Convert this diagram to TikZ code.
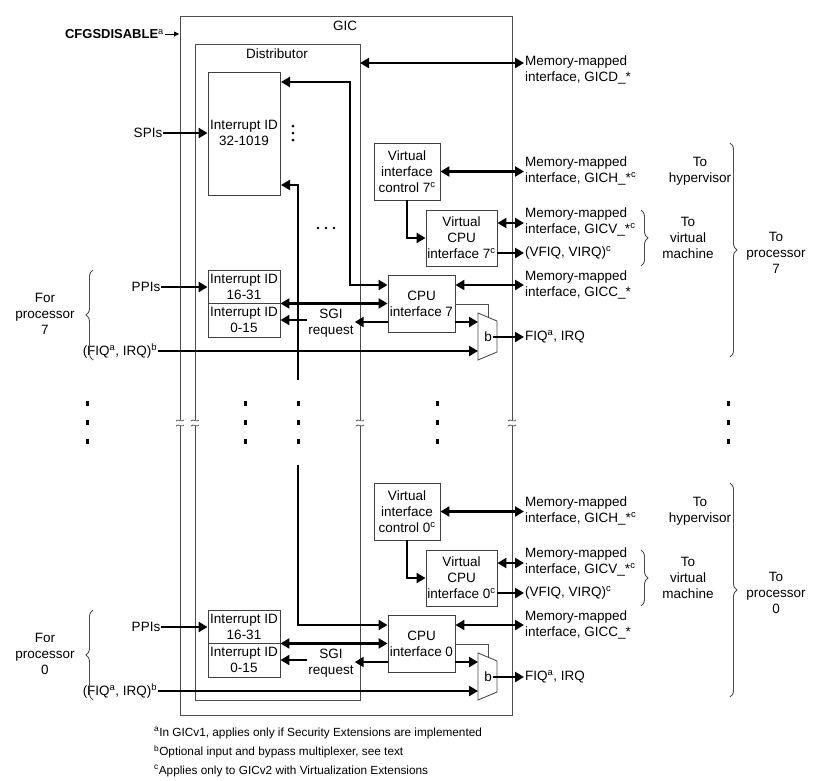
\documentclass[tikz,border=0pt]{standalone}
\usepackage{fontspec}
\setmainfont{Liberation Sans}
\usetikzlibrary{arrows.meta,calc,decorations.pathreplacing}

\tikzset{
    txt/.style={font=\fontsize{13.5}{16}\selectfont, inner sep=1pt},
    blk/.style={draw=black!75, line width=0.9pt, fill=white, align=center, txt, inner sep=0pt},
    sig/.style={line width=2.3pt, -{Triangle[length=9pt,width=10pt]}},
    bisig/.style={line width=2.3pt, {Triangle[length=9pt,width=10pt]}-{Triangle[length=9pt,width=10pt]}},
    frame/.style={draw=black!70, line width=0.9pt},
    brc/.style={draw=black!70, line width=0.9pt, decorate, decoration={brace, amplitude=7pt}},
}

\begin{document}
\begin{tikzpicture}[x=1pt, y=-1pt]
    \useasboundingbox (0,0) rectangle (816,780);

    % outer blocks
    \draw[frame] (180,16) rectangle (512,715);
    \draw[frame] (195,44) rectangle (360,700);
    \node[txt] (gic) at (345,26) {GIC};
    \node[txt] (dist) at (277,54) {Distributor};
    \node[txt, anchor=east, font=\fontsize{13}{15}\selectfont\bfseries] (cfg) at (165,34) {CFGSDISABLE\textsuperscript{\normalfont a}};
    \coordinate (gicin) at (179,34);
    \draw[line width=0.9pt, -{Triangle[length=5pt,width=5pt]}] (cfg.east) -- (gicin);

    % shared SPI block
    \node[blk, minimum width=72pt, minimum height=123pt] (spi) at (244,133.5) {};
    \node[txt, align=center] (spitxt) at (244,133) {Interrupt ID\\32-1019};
    \node[txt] (spis) at (148,133) {SPIs};
    \draw[sig] (spis.east) -- (spi.west |- spis.east);
    \foreach \y in {126,133,140} \fill (293,\y) circle (1.5pt);
    \foreach \x in {318,326,334} \fill (\x,228) circle (1.3pt);

    \node[txt, anchor=west, align=left] (gicd) at (524,70) {Memory-mapped\\interface, GICD\_*};
    \coordinate (distr) at (360,63);
    \draw[bisig] (distr) -- (distr -| gicd.west);

    \foreach \p/\d in {7/0, 0/340} {
        % per-processor blocks
        \node[blk, minimum width=66pt, minimum height=57pt] (vic\p) at (407,{171.5+\d}) {Virtual\\interface\\control \p\textsuperscript{c}};
        \node[blk, minimum width=71pt, minimum height=56pt] (vcpu\p) at (461.5,{238+\d}) {Virtual\\CPU\\interface \p\textsuperscript{c}};
        \node[blk, minimum width=67pt, minimum height=57pt] (cpu\p) at (421.5,{303.5+\d}) {CPU\\interface \p};
        \node[blk, minimum width=72pt, minimum height=33pt] (ida\p) at (244,{286.5+\d}) {Interrupt ID\\16-31};
        \node[blk, minimum width=72pt, minimum height=34pt] (idb\p) at (244,{320+\d}) {Interrupt ID\\0-15};
        \draw[frame] (478,{313+\d}) coordinate (muxa\p) -- (497,{321+\d}) -- (497,{352+\d}) -- (478,{360+\d}) -- cycle;
        \node[txt] (mux\p) at (488,{337+\d}) {b};

        % right side texts
        \node[txt, anchor=west, align=left] (gich\p) at (524,{171+\d}) {Memory-mapped\\interface, GICH\_*\textsuperscript{c}};
        \node[txt, anchor=west, align=left] (gicv\p) at (524,{222+\d}) {Memory-mapped\\interface, GICV\_*\textsuperscript{c}};
        \node[txt, anchor=west] (virq\p) at (524,{253+\d}) {(VFIQ, VIRQ)\textsuperscript{c}};
        \node[txt, anchor=west, align=left] (gicc\p) at (524,{285+\d}) {Memory-mapped\\interface, GICC\_*};
        \node[txt, anchor=west] (fiq\p) at (524,{337+\d}) {FIQ\textsuperscript{a}, IRQ};
        \node[txt, align=center] (hyp\p) at (700,{171+\d}) {To\\hypervisor};
        \node[txt, align=center] (vm\p) at (688,{238+\d}) {To\\virtual\\machine};
        \node[txt, align=center] (proc\p) at (776,{253+\d}) {To\\processor\\\p};
        \draw[brc] (641,{210+\d}) -- (641,{266+\d});
        \draw[brc] (730,{143+\d}) -- (730,{357+\d});

        % left side texts
        \node[txt] (ppi\p) at (146,{287+\d}) {PPIs};
        \node[txt] (fiqin\p) at (120,{351+\d}) {(FIQ\textsuperscript{a}, IRQ)\textsuperscript{b}};
        \node[txt, align=center] (for\p) at (45,{314+\d}) {For\\processor\\\p};
        \draw[brc] (93,{360+\d}) -- (93,{270+\d});
        \node[txt, align=center] (sgi\p) at (331,{323+\d}) {SGI\\request};

        % connectors
        \draw[bisig] (vic\p.east) -- (vic\p.east -| gich\p.west);
        \draw[sig] (vic\p.south) |- (vcpu\p.west);
        \draw[bisig] ([yshift=15pt]vcpu\p.east) -- ([yshift=15pt]vcpu\p.east -| gicv\p.west);
        \draw[sig] (vcpu\p.east |- virq\p.west) -- (virq\p.west);
        \draw[bisig] ([yshift=18.5pt]cpu\p.east) -- ([yshift=18.5pt]cpu\p.east -| gicc\p.west);
        \draw[sig] (ppi\p.east) -- (ida\p.west |- ppi\p.east);
        \draw[bisig] (ida\p.south east) -- (cpu\p.west |- ida\p.south east);
        \draw[sig] (sgi\p.west |- idb\p.east) -- (idb\p.east);
        \draw[sig] ([yshift=-18.5pt]cpu\p.west) -- (sgi\p.east |- 0,{322+\d});
        \draw[sig] ([yshift=-18.5pt]cpu\p.east) -- (478,{322+\d});
        \draw[frame] ([yshift=-0.5pt]cpu\p.east) -- (488,{304+\d}) -- (488,{317+\d});
        \draw[sig] (mux\p.east) -- (fiq\p.west);
        \draw[sig] (fiqin\p.east) -- (478,{351+\d});
    }

    % links from the shared SPI block
    \coordinate (spitop) at (281,82);
    \coordinate (spibot) at (281,185);
    \coordinate (linkend) at (298,380);
    \coordinate (linkstart) at (298,465);
    \draw[bisig] (spitop) -- (350,82) |- ([yshift=18.5pt]cpu7.west);
    \draw[line width=2.3pt, {Triangle[length=9pt,width=10pt]}-] (spibot) -| (linkend);
    \draw[sig] (linkstart) |- ([yshift=18.5pt]cpu0.west);

    % elision dots and breaks
    \foreach \x in {87,245,298,437,728}
        \foreach \y in {403,422,441} \fill (\x-1,\y-2) rectangle ++(2.5,4.5);
    \foreach \x in {180,195,360,512} {
        \fill[white] (\x-4,420) rectangle (\x+4,426);
        \draw[black!70, line width=0.7pt] (\x-4,421) .. controls (\x-1.5,418) and (\x+1.5,423) .. (\x+4,420);
        \draw[black!70, line width=0.7pt] (\x-4,426) .. controls (\x-1.5,423) and (\x+1.5,428) .. (\x+4,425);
    }

    % footnotes
    \node[txt, anchor=west, font=\fontsize{11.8}{14}\selectfont] (fna) at (153,733) {\textsuperscript{a}In GICv1, applies only if Security Extensions are implemented};
    \node[txt, anchor=west, font=\fontsize{11.8}{14}\selectfont] (fnb) at (153,752) {\textsuperscript{b}Optional input and bypass multiplexer, see text};
    \node[txt, anchor=west, font=\fontsize{11.8}{14}\selectfont] (fnc) at (153,771) {\textsuperscript{c}Applies only to GICv2 with Virtualization Extensions};
\end{tikzpicture}
\end{document}
